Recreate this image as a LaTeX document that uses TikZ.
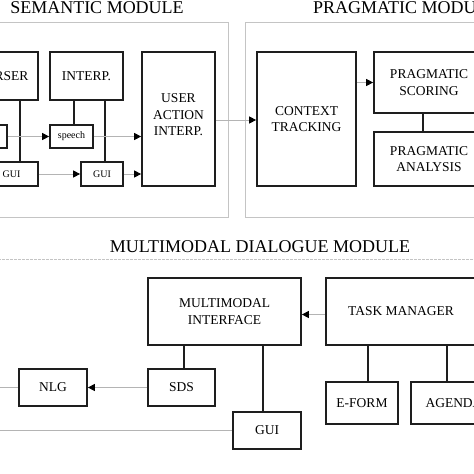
\documentclass[tikz,border=0pt]{standalone}
\usepackage{fontspec}
\setmainfont{Liberation Serif}
\usetikzlibrary{arrows.meta}
\definecolor{frameg}{HTML}{C4C4C4}
\definecolor{lineg}{HTML}{B4B4B4}
\definecolor{boxk}{HTML}{1E1E1E}
\begin{document}
\begin{tikzpicture}[x=1pt, y=-1pt,
    blk/.style={draw=boxk, line width=1.7pt, inner sep=0pt, align=center,
      font=\fontsize{13.5}{16.5}\selectfont},
    small/.style={blk, font=\fontsize{10}{12}\selectfont},
    title/.style={font=\fontsize{18}{20}\selectfont, inner sep=0pt},
    frame/.style={draw=frameg, line width=1pt},
    gline/.style={draw=lineg, line width=0.9pt},
    arr/.style={gline, -{Triangle[length=7pt,width=7pt,color=black]}},
    tie/.style={draw=boxk, line width=1.7pt}]
    \useasboundingbox (0,0) rectangle (474,474);
    \clip (0,0) rectangle (474,474);
    \fill[white] (0,0) rectangle (474,474);
    \draw[frame] (-60,22) rectangle (228,217);
    \draw[frame] (245,22) rectangle (530,217);
    \draw[frame, dashed, dash pattern=on 3pt off 1pt] (-10,259) -- (490,259);
    \node[title, anchor=base] (semt) at (97,13) {SEMANTIC MODULE};
    \node[title, anchor=base west] (pragt) at (313,13) {PRAGMATIC MODULE};
    \node[title, anchor=base] (mmt) at (260,252) {MULTIMODAL DIALOGUE MODULE};
    % semantic
    \node[blk, minimum width=69pt, minimum height=48pt] (parser) at (3.5,76) {PARSER};
    \node[blk, minimum width=73pt, minimum height=48pt] (interp) at (86.5,76) {INTERP.};
    \node[small, minimum width=43pt, minimum height=23pt] (lbox) at (-14.5,136.5) {};
    \node[small, minimum width=43pt, minimum height=23pt] (speech) at (71.5,136.5) {speech};
    \node[small, minimum width=53pt, minimum height=24pt] (gui1) at (11.5,174) {GUI};
    \node[small, minimum width=42pt, minimum height=24pt] (gui2) at (102,174) {GUI};
    \node[blk, minimum width=73pt, minimum height=134pt, text depth=8pt] (useract) at (178.5,119) {USER\\ACTION\\INTERP.};
    % pragmatic
    \node[blk, minimum width=99pt, minimum height=134pt] (context) at (306.5,119) {CONTEXT\\TRACKING};
    \node[blk, minimum width=110pt, minimum height=61pt] (score) at (429,82.5) {PRAGMATIC\\SCORING};
    \node[blk, minimum width=110pt, minimum height=54pt] (analysis) at (429,159) {PRAGMATIC\\ANALYSIS};
    % multimodal dialogue
    \node[blk, minimum width=153pt, minimum height=67pt] (mmi) at (224.5,311.5) {MULTIMODAL\\INTERFACE};
    \node[blk, minimum width=150pt, minimum height=67pt] (task) at (401,311.5) {TASK MANAGER};
    \node[blk, minimum width=72pt, minimum height=42pt] (eform) at (362,403) {E-FORM};
    \node[blk, minimum width=86pt, minimum height=42pt] (agenda) at (454,403) {AGENDA};
    \node[blk, minimum width=67pt, minimum height=37pt] (sds) at (181.5,387.5) {SDS};
    \node[blk, minimum width=68pt, minimum height=37pt] (nlg) at (53,387.5) {NLG};
    \node[blk, minimum width=68pt, minimum height=37pt] (gui3) at (267,430.5) {GUI};
    \coordinate (nlgin) at (-10,387.5);
    \coordinate (guiin) at (-10,430.5);
    % ties
    \draw[tie] ([xshift=16.5pt]parser.south) coordinate (p1) -- (p1 |- gui1.north);
    \draw[tie] ([xshift=-12.5pt]interp.south) coordinate (i1) -- (i1 |- speech.north);
    \draw[tie] ([xshift=18.5pt]interp.south) coordinate (i2) -- (i2 |- gui2.north);
    \draw[tie] ([xshift=-6pt]score.south) coordinate (s1) -- (s1 |- analysis.north);
    \draw[tie] ([xshift=6pt]eform.north) coordinate (e1) -- (e1 |- task.south);
    \draw[tie] ([xshift=-7pt]agenda.north) coordinate (a1) -- (a1 |- task.south);
    \draw[tie] ([xshift=2.5pt]sds.north) coordinate (d1) -- (d1 |- mmi.south);
    \draw[tie] ([xshift=-4pt]gui3.north) coordinate (g1) -- (g1 |- mmi.south);
    % arrows
    \draw[arr] (lbox.east) -- (speech.west);
    \draw[arr] (speech.east) -- (speech.east -| useract.west);
    \draw[arr] (gui1.east) -- (gui2.west);
    \draw[arr] (gui2.east) -- (gui2.east -| useract.west);
    \draw[arr] ([yshift=-1pt]useract.east) -- ([yshift=-1pt]context.west);
    \draw[arr] (score.west -| context.east) -- (score.west);
    \draw[arr] ([yshift=-3pt]task.west) -- ([yshift=-3pt]task.west -| mmi.east);
    \draw[arr] (sds.west) -- (nlg.east);
    \draw[gline] (nlgin) -- (nlg.west);
    \draw[gline] (guiin) -- (gui3.west);
\end{tikzpicture}
\end{document}
